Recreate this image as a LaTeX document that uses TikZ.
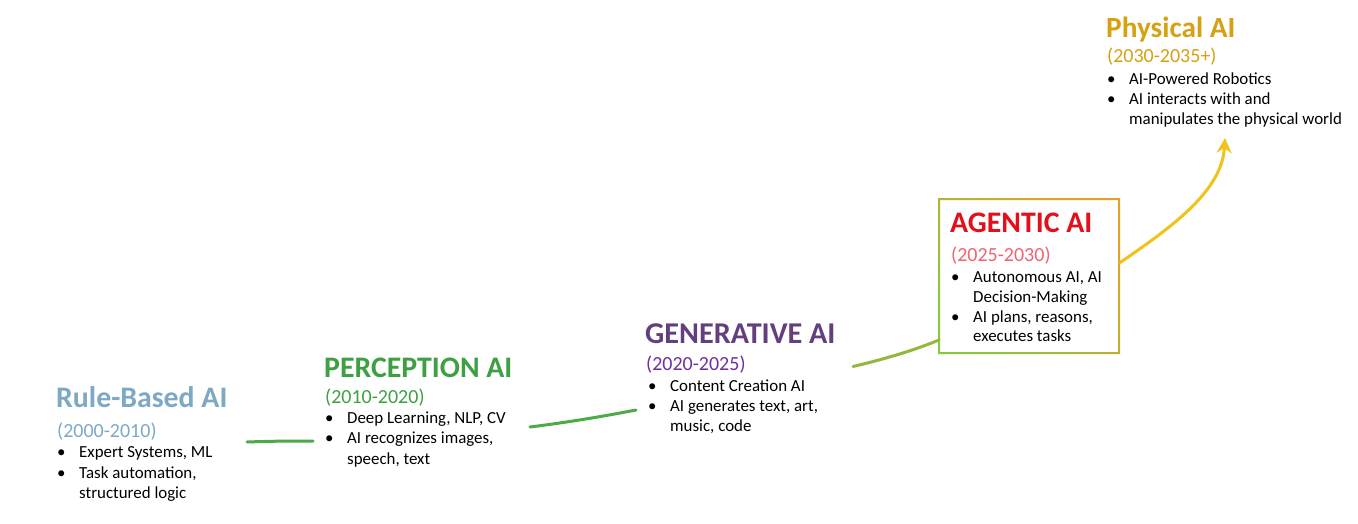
\documentclass[tikz,border=0pt]{standalone}
\usepackage{fontspec}
\setmainfont{Carlito}
\usetikzlibrary{arrows.meta}
\definecolor{cRule}{HTML}{7DA9C4}
\definecolor{cPer}{HTML}{3EA043}
\definecolor{cGenT}{HTML}{633F7E}
\definecolor{cGenY}{HTML}{7030A0}
\definecolor{cAgT}{HTML}{E3101B}
\definecolor{cAgY}{HTML}{EF6470}
\definecolor{cPhy}{HTML}{D6A112}
\definecolor{cLineG}{HTML}{4DAA48}
\definecolor{cLineO}{HTML}{93B83B}
\definecolor{cLineY}{HTML}{F2C21C}
\definecolor{cBoxA}{HTML}{E2A226}
\definecolor{cBoxB}{HTML}{8CC63F}
\newcommand{\bul}[1]{\makebox[22pt][l]{\textbullet}#1}
\begin{document}
\begin{tikzpicture}[x=1pt,y=-1pt,
  ttl/.style={anchor=base west, inner sep=0pt, font=\bfseries\fontsize{#1}{#1}\selectfont},
  yr/.style={anchor=base west, inner sep=0pt, font=\fontsize{20}{24}\selectfont},
  bl/.style={anchor=base west, inner sep=0pt, font=\fontsize{16.9}{20}\selectfont},
  conn/.style={line width=3pt, line cap=round}]
\useasboundingbox (0,0) rectangle (1358,524);
\fill[white] (0,0) rectangle (1358,524);

% Rule-Based AI
\node[ttl=29.8, text=cRule] (rt) at (56,407) {Rule-Based AI};
\node[yr, text=cRule] (ry) at (57,437) {(2000-2010)};
\node[bl] (rb1) at (57,457.5) {\bul{Expert Systems, ML}};
\node[bl] (rb2) at (57,478) {\bul{Task automation,}};
\node[bl] (rb3) at (79,498) {structured logic};

% Perception AI
\node[ttl=29.8, text=cPer] (pt) at (324,377) {PERCEPTION AI};
\node[yr, text=cPer] (py) at (325,403) {(2010-2020)};
\node[bl] (pb1) at (325,423) {\bul{Deep Learning, NLP, CV}};
\node[bl] (pb2) at (325,443.5) {\bul{AI recognizes images,}};
\node[bl] (pb3) at (347,464.5) {speech, text};

% Generative AI
\node[ttl=30.2, text=cGenT] (gt) at (645,343) {GENERATIVE AI};
\node[yr, text=cGenY] (gy) at (646,370) {(2020-2025)};
\node[bl] (gb1) at (648,391) {\bul{Content Creation AI}};
\node[bl] (gb2) at (648,411) {\bul{AI generates text, art,}};
\node[bl] (gb3) at (670,431) {music, code};

% Agentic AI box
\node[anchor=north west, minimum width=180pt, minimum height=154pt, inner sep=0pt] (agbox) at (939,199) {};
\path[top color=cBoxA, bottom color=cBoxB, shading angle=-45, even odd rule]
  (938,198) rectangle (1120,354) (940,200) rectangle (1118,352);
\node[ttl=29.8, text=cAgT] (at) at (950,233) {AGENTIC AI};
\node[yr, text=cAgY] (ay) at (951,261) {(2025-2030)};
\node[bl] (ab1) at (951,282) {\bul{Autonomous AI, AI}};
\node[bl] (ab2) at (973,302) {Decision-Making};
\node[bl] (ab3) at (951,322) {\bul{AI plans, reasons,}};
\node[bl] (ab4) at (973,341.5) {executes tasks};

% Physical AI
\node[ttl=29.3, text=cPhy] (ft) at (1106,38) {Physical AI};
\node[yr, text=cPhy] (fy) at (1107,63) {(2030-2035+)};
\node[bl] (fb1) at (1107,85) {\bul{AI-Powered Robotics}};
\node[bl] (fb2) at (1107,105) {\bul{AI interacts with and}};
\node[bl] (fb3) at (1129,124.5) {manipulates the physical world};

% connectors
\coordinate (c1a) at (247,442);
\coordinate (c1b) at (313,441);
\coordinate (c2a) at (530,427);
\coordinate (c2b) at (636,410);
\coordinate (c3a) at (853,366.5);
\coordinate (c3b) at (agbox.west |- 0,340);
\coordinate (c4a) at (agbox.east |- 0,263);
\coordinate (c4b) at (1225,138);

\draw[conn, cLineG] (c1a) .. controls (275,441) and (295,441) .. (c1b);
\draw[conn, cLineG] (c2a) .. controls (570,422) and (605,416) .. (c2b);
\draw[conn, cLineO] (c3a) .. controls (885,359) and (915,350) .. (c3b);
\draw[line width=3pt, cLineY, -{Stealth[length=15pt, width=15pt, inset=5pt]}]
  (c4a) .. controls (1175,225) and (1222,190) .. (c4b);
\end{tikzpicture}
\end{document}
